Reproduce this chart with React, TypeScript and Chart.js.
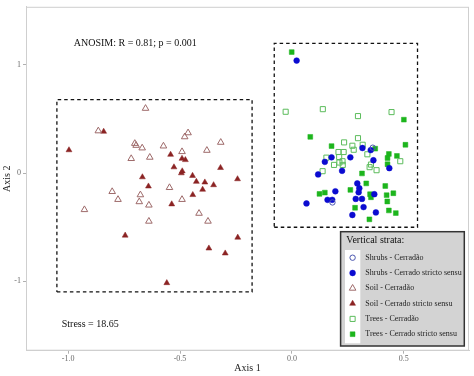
import React, { useEffect, useRef } from "react";
import { Chart, registerables } from "chart.js";
import { drawPoint } from "chart.js/helpers";

Chart.register(...registerables);

// ---- Data (NMDS scores) ----
const seriesNames = [
  "Shrubs - Cerradão",
  "Shrubs - Cerrado stricto sensu",
  "Soil - Cerradão",
  "Soil - Cerrado stricto sensu",
  "Trees - Cerradão",
  "Trees - Cerrado stricto sensu",
];

const shrubsCerradao: [number, number][] = [
  [0.361, 0.235], [0.181, -0.271],
];

const shrubsStricto: [number, number][] = [
  [0.021, 1.04], [0.315, 0.232], [0.352, 0.213], [0.177, 0.146], [0.261, 0.146],
  [0.147, 0.104], [0.364, 0.119], [0.117, -0.012], [0.224, 0.021], [0.435, 0.046],
  [0.292, -0.095], [0.301, -0.14], [0.298, -0.177], [0.194, -0.168], [0.368, -0.195],
  [0.159, -0.247], [0.18, -0.247], [0.065, -0.28], [0.285, -0.238], [0.313, -0.238],
  [0.32, -0.314], [0.375, -0.363], [0.27, -0.387],
];

const soilCerradao: [number, number][] = [
  [-0.654, 0.598], [-0.865, 0.39], [-0.702, 0.274], [-0.696, 0.256], [-0.669, 0.232],
  [-0.718, 0.134], [-0.635, 0.146], [-0.574, 0.25], [-0.464, 0.372], [-0.479, 0.335],
  [-0.491, 0.198], [-0.38, 0.21], [-0.318, 0.284], [-0.803, -0.171], [-0.777, -0.244],
  [-0.677, -0.201], [-0.682, -0.265], [-0.639, -0.296], [-0.547, -0.134], [-0.491, -0.244],
  [-0.927, -0.338], [-0.639, -0.445], [-0.415, -0.372], [-0.375, -0.445],
];

const soilStricto: [number, number][] = [
  [-0.841, 0.384], [-0.996, 0.213], [-0.542, 0.171], [-0.491, 0.134], [-0.476, 0.122],
  [-0.527, 0.055], [-0.49, 0.018], [-0.494, 0.0], [-0.319, 0.049], [-0.668, -0.037],
  [-0.444, -0.024], [-0.427, -0.079], [-0.389, -0.085], [-0.35, -0.11], [-0.243, -0.055],
  [-0.641, -0.122], [-0.399, -0.152], [-0.443, -0.201], [-0.537, -0.287], [-0.745, -0.576],
  [-0.242, -0.595], [-0.371, -0.695], [-0.298, -0.741], [-0.559, -1.015],
];

const treesCerradao: [number, number][] = [
  [-0.028, 0.567], [0.138, 0.591], [0.295, 0.527], [0.445, 0.564], [0.295, 0.323],
  [0.233, 0.284], [0.27, 0.253], [0.316, 0.262], [0.276, 0.216], [0.208, 0.195],
  [0.231, 0.195], [0.337, 0.174], [0.211, 0.149], [0.154, 0.143], [0.226, 0.11],
  [0.212, 0.098], [0.188, 0.076], [0.227, 0.076], [0.353, 0.079], [0.347, 0.055],
  [0.484, 0.11], [0.378, 0.027], [0.137, 0.018],
];

const treesStricto: [number, number][] = [
  [-0.001, 1.119], [0.5, 0.494], [0.082, 0.335], [0.177, 0.25], [0.507, 0.262],
  [0.372, 0.226], [0.433, 0.177], [0.427, 0.14], [0.469, 0.159], [0.427, 0.082],
  [0.313, -0.003], [0.332, -0.095], [0.417, -0.119], [0.261, -0.155], [0.147, -0.18],
  [0.123, -0.192], [0.349, -0.195], [0.453, -0.186], [0.423, -0.204], [0.353, -0.223],
  [0.426, -0.262], [0.282, -0.32], [0.433, -0.345], [0.464, -0.369], [0.346, -0.427],
];

// Dashed group boxes: [xMin, xMax, yMin, yMax]
const soilBox = [-1.05, -0.178, -1.098, 0.68];
const vegBox = [-0.079, 0.561, -0.5, 1.199];

const xTicks = [-1.0, -0.5, 0.0, 0.5];
const yTicks = [-1, 0, 1];

const anosimText = "ANOSIM: R = 0.81; p = 0.001";
const anosimPos = [-0.7, 1.195];
const stressText = "Stress = 18.65";
const stressPos = [-0.901, -1.4];

const legendTitle = "Vertical strata:";

const SERIF = "'Liberation Serif', 'DejaVu Serif', serif";

const toPts = (arr: [number, number][]) => arr.map(([x, y]) => ({ x, y }));
const boxPts = (b: number[]) => [
  { x: b[0], y: b[2] }, { x: b[1], y: b[2] }, { x: b[1], y: b[3] },
  { x: b[0], y: b[3] }, { x: b[0], y: b[2] },
];

export default function App() {
  const ref = useRef<HTMLCanvasElement>(null);

  useEffect(() => {
    document.body.style.margin = "0";
    const canvas = ref.current;
    if (!canvas) return;

    const pointSets = [
      { label: seriesNames[0], data: toPts(shrubsCerradao), pointStyle: "circle", pointRadius: 2.7, backgroundColor: "rgba(0,0,0,0)", borderColor: "#4a56b0", borderWidth: 1 },
      { label: seriesNames[1], data: toPts(shrubsStricto), pointStyle: "circle", pointRadius: 2.9, backgroundColor: "#0b0bd0", borderColor: "#0b0bd0", borderWidth: 0.5 },
      { label: seriesNames[2], data: toPts(soilCerradao), pointStyle: "triangle", pointRadius: 3.8, backgroundColor: "rgba(0,0,0,0)", borderColor: "#9e6a6a", borderWidth: 1 },
      { label: seriesNames[3], data: toPts(soilStricto), pointStyle: "triangle", pointRadius: 3.4, backgroundColor: "#8b2323", borderColor: "#8b2323", borderWidth: 0.5 },
      { label: seriesNames[4], data: toPts(treesCerradao), pointStyle: "rect", pointRadius: 3.6, backgroundColor: "rgba(0,0,0,0)", borderColor: "#5cbc5c", borderWidth: 1 },
      { label: seriesNames[5], data: toPts(treesStricto), pointStyle: "rect", pointRadius: 3.4, backgroundColor: "#1db51d", borderColor: "#1db51d", borderWidth: 0.5 },
    ];

    const boxSets = [soilBox, vegBox].map((b, i) => ({
      label: "box" + i,
      data: boxPts(b),
      showLine: true,
      borderColor: "#111",
      borderWidth: 1.3,
      borderDash: [3.5, 3],
      pointRadius: 0,
      fill: false,
      backgroundColor: "rgba(0,0,0,0)",
    }));

    const overlay = {
      id: "overlay",
      beforeDraw(chart: any) {
        const ctx = chart.ctx;
        ctx.save();
        ctx.fillStyle = "#fff";
        ctx.fillRect(0, 0, chart.width, chart.height);
        ctx.restore();
      },
      afterDatasetsDraw(chart: any) {
        const ctx = chart.ctx;
        const { left, top, right, bottom } = chart.chartArea;
        const xs = chart.scales.x;
        const ys = chart.scales.y;
        ctx.save();
        // panel border
        ctx.strokeStyle = "#cfcfcf";
        ctx.lineWidth = 1;
        ctx.strokeRect(left + 0.5, top + 0.5, right - left - 1, bottom - top - 1);

        // annotations
        ctx.fillStyle = "#111";
        ctx.font = "10px " + SERIF;
        ctx.textAlign = "center";
        ctx.textBaseline = "middle";
        ctx.fillText(anosimText, xs.getPixelForValue(anosimPos[0]), ys.getPixelForValue(anosimPos[1]));
        ctx.fillText(stressText, xs.getPixelForValue(stressPos[0]), ys.getPixelForValue(stressPos[1]));

        // legend
        const bx1 = right - 4.7;
        const by1 = bottom - 4.7;
        const bx0 = bx1 - 123.7;
        const by0 = by1 - 114.3;
        ctx.fillStyle = "#d3d3d3";
        ctx.fillRect(bx0, by0, bx1 - bx0, by1 - by0);
        ctx.strokeStyle = "#333";
        ctx.lineWidth = 1.5;
        ctx.strokeRect(bx0, by0, bx1 - bx0, by1 - by0);

        ctx.fillStyle = "#111";
        ctx.font = "10px " + SERIF;
        ctx.textAlign = "left";
        ctx.textBaseline = "middle";
        ctx.fillText(legendTitle, bx0 + 5.7, by0 + 9);

        const keyX0 = bx0 + 4.4;
        const keyY0 = by0 + 18.3;
        ctx.fillStyle = "#fff";
        ctx.fillRect(keyX0, keyY0, 15.3, 93.3);

        const step = 15.3;
        ctx.font = "8px " + SERIF;
        pointSets.forEach((ds, i) => {
          const cy = keyY0 + 7.7 + i * step;
          const cx = keyX0 + 7.6;
          ctx.fillStyle = ds.backgroundColor;
          ctx.strokeStyle = ds.borderColor;
          ctx.lineWidth = ds.borderWidth;
          drawPoint(ctx, { pointStyle: ds.pointStyle, radius: ds.pointRadius, rotation: 0, borderWidth: ds.borderWidth }, cx, cy);
          ctx.fillStyle = "#222";
          ctx.fillText(ds.label, bx0 + 24.7, cy);
        });
        ctx.restore();
      },
    };

    const chart = new Chart(canvas, {
      type: "scatter",
      data: { datasets: [...boxSets, ...pointSets] as any },
      options: {
        responsive: false,
        animation: false,
        layout: { padding: { top: 3.3, right: 3.3, left: 0, bottom: 0 } },
        plugins: { legend: { display: false }, tooltip: { enabled: false } },
        scales: {
          x: {
            type: "linear",
            min: -1.188,
            max: 0.791,
            afterBuildTicks: (s: any) => { s.ticks = xTicks.map((v) => ({ value: v })); },
            afterFit: (s: any) => { s.height = 25.3; },
            ticks: {
              font: { size: 8, family: SERIF },
              color: "#6a6a6a",
              padding: 0,
              maxRotation: 0,
              callback: (v: any) => Number(v).toFixed(1),
            },
            grid: { display: true, drawOnChartArea: false, drawTicks: true, tickLength: 3, color: "#b0b0b0" },
            border: { display: true, color: "#cfcfcf" },
            title: { display: true, text: "Axis 1", font: { size: 10, family: SERIF }, color: "#222", padding: { top: 0, bottom: 2 } },
          },
          y: {
            type: "linear",
            min: -1.641,
            max: 1.537,
            afterBuildTicks: (s: any) => { s.ticks = yTicks.map((v) => ({ value: v })); },
            afterFit: (s: any) => { s.width = 26; },
            ticks: {
              font: { size: 8, family: SERIF },
              color: "#6a6a6a",
              padding: 2,
              callback: (v: any) => String(v),
            },
            grid: { display: true, drawOnChartArea: false, drawTicks: true, tickLength: 3, color: "#b0b0b0" },
            border: { display: true, color: "#cfcfcf" },
            title: { display: true, text: "Axis 2", font: { size: 10, family: SERIF }, color: "#222", padding: { top: 1.5, bottom: 0 } },
          },
        },
      },
      plugins: [overlay],
    });

    return () => chart.destroy();
  }, []);

  return (
    <div style={{ width: 474, height: 376 }}>
      <canvas ref={ref} width={474} height={376} style={{ display: "block" }} />
    </div>
  );
}
